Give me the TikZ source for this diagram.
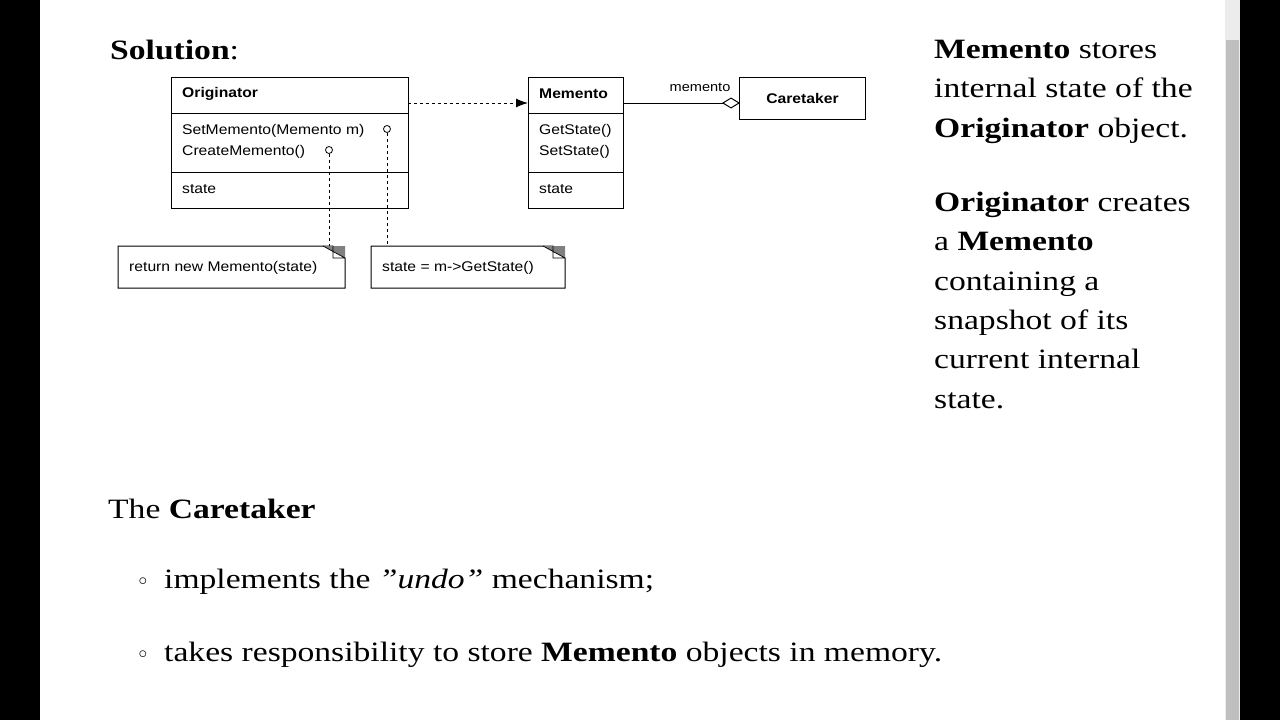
\documentclass[tikz,border=0pt]{standalone}
\usepackage{fontspec}
\setmainfont{Liberation Serif}[FakeStretch=1.2]
\newfontfamily\uml{Liberation Sans}[FakeStretch=1.12]
\usetikzlibrary{arrows.meta}
\begin{document}
\begin{tikzpicture}[x=1pt,y=-1pt,
  big/.style={font=\fontsize{28}{39.3}\selectfont,anchor=west,inner sep=0},
  u/.style={font=\uml\fontsize{14}{21}\selectfont,anchor=west,inner sep=0},
  ub/.style={u,font=\uml\bfseries\fontsize{14}{21}\selectfont},
  box/.style={draw,line width=1pt},
  dep/.style={dashed,line width=1pt},
  note/.style={draw,line width=1pt}]
\useasboundingbox (0,0) rectangle (1280,720);
\fill[black] (0,0) rectangle (40,720);
\fill[black] (1240,0) rectangle (1280,720);
\fill[gray!15] (1225,0) rectangle (1240,720);
\fill[gray!50] (1226,40) rectangle (1239,720);
% Solution
\node[big] (sol) at (110,50) {\textbf{Solution}:};
% Originator
\draw[box] (171,77) rectangle (408,208);
\draw[line width=1pt] (171,113) -- (408,113) (171,172) -- (408,172);
\node[ub] (on) at (182,94) {Originator};
\node[u] (o1) at (182,131) {SetMemento(Memento m)};
\node[u] (o2) at (182,152) {CreateMemento()};
\node[u] (o3) at (182,189) {state};
\coordinate (orig) at (408,103);
% Memento
\draw[box] (528,77) rectangle (623,208);
\draw[line width=1pt] (528,113) -- (623,113) (528,172) -- (623,172);
\node[ub] (mn) at (539,94) {Memento};
\node[u] (m1) at (539,131) {GetState()};
\node[u] (m2) at (539,152) {SetState()};
\node[u] (m3) at (539,189) {state};
\coordinate (mem) at (528,103);
\coordinate (memr) at (623,103);
% Caretaker
\node[box,minimum width=126,minimum height=42,inner sep=0,font=\uml\bfseries\fontsize{14}{21}\selectfont] (care) at (802.5,98) {Caretaker};
\coordinate (carel) at (740,103);
\draw[dep,-{Latex[length=12pt,width=9pt]}] (orig) -- (mem);
\draw[line width=1pt,-{Latex[length=12pt,width=9pt]},{Diamond[open,length=18pt,width=11pt]}-] (carel) -- (memr);
\node[font=\uml\fontsize{13}{15}\selectfont,inner sep=0] (ml) at (700,87) {memento};
% notes
\draw[note] (118,246) -- (333,246) -- (345,258) -- (345,288) -- (118,288) -- cycle;
\fill[gray] (323,246) -- (345,246) -- (345,258) -- cycle;
\draw[line width=0.7pt] (333,246) -- (333,258) -- (345,258) (323,246) -- (345,258);
\node[u] (n1) at (129,268) {return new Memento(state)};
\draw[note] (371,246) -- (553,246) -- (565,258) -- (565,288) -- (371,288) -- cycle;
\fill[gray] (543,246) -- (565,246) -- (565,258) -- cycle;
\draw[line width=0.7pt] (553,246) -- (553,258) -- (565,258) (543,246) -- (565,258);
\node[u] (n2) at (382,268) {state = m->GetState()};
\node[draw,circle,inner sep=0,minimum size=7pt,line width=0.8pt] (c1) at (329,150) {};
\node[draw,circle,inner sep=0,minimum size=7pt,line width=0.8pt] (c2) at (387,129) {};
\draw[dep] (c1) -- (329,246);
\draw[dep] (c2) -- (387,246);
% right text
\node[big,anchor=north west,align=left] (rt) at (934,40) {\textbf{Memento} stores\\internal state of the\\\textbf{Originator} object.};
\node[big,anchor=north west,align=left] (rt2) at (934,192) {\textbf{Originator} creates\\a \textbf{Memento}\\containing a\\snapshot of its\\current internal\\state.};
% bottom
\node[big] (care2) at (108,509) {The \textbf{Caretaker}};
\node[font=\fontsize{16}{16}\selectfont,inner sep=0] (b1) at (143,582) {$\circ$};
\node[big] (l1) at (164,582) {implements the \textit{\symbol{34}undo\symbol{34}} mechanism;};
\node[font=\fontsize{16}{16}\selectfont,inner sep=0] (b2) at (143,655) {$\circ$};
\node[big] (l2) at (164,655) {takes responsibility to store \textbf{Memento} objects in memory.};
\end{tikzpicture}
\end{document}
